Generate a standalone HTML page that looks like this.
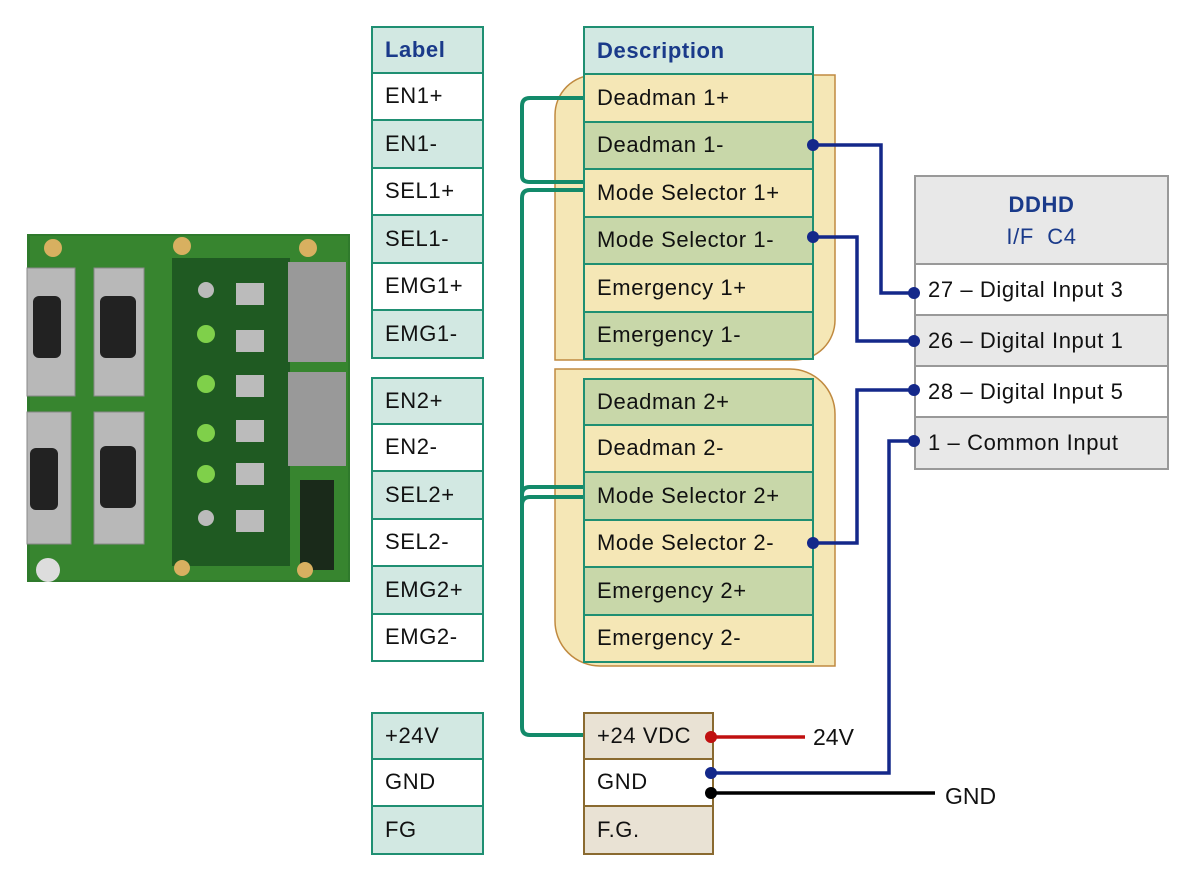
<!DOCTYPE html><html><head><style>
body{margin:0;width:1200px;height:874px;background:#fff;font-family:"Liberation Sans",sans-serif;position:relative;overflow:hidden}
.c{position:absolute;box-sizing:border-box;font-size:22px;letter-spacing:0.6px;color:#111;padding-left:12px;display:flex;align-items:center}
</style></head><body>
<svg width="1200" height="874" style="position:absolute;left:0;top:0">
<rect x="27" y="234" width="323" height="348" fill="#2f7a2c"/>
<rect x="30" y="236" width="318" height="344" fill="#37852f"/>
<rect x="172" y="258" width="118" height="308" fill="#1f5a22"/>
<g fill="#b8b8b8" stroke="#888"><rect x="27" y="268" width="48" height="128"/><rect x="94" y="268" width="50" height="128"/><rect x="27" y="412" width="44" height="132"/><rect x="94" y="412" width="50" height="132"/></g>
<g fill="#222"><rect x="33" y="296" width="28" height="62" rx="6"/><rect x="100" y="296" width="36" height="62" rx="6"/><rect x="30" y="448" width="28" height="62" rx="6"/><rect x="100" y="446" width="36" height="62" rx="6"/></g>
<g fill="#999"><rect x="288" y="262" width="58" height="100"/><rect x="288" y="372" width="58" height="94"/></g>
<rect x="300" y="480" width="34" height="90" fill="#1a2a1a"/>
<g fill="#7fd04a"><circle cx="206" cy="334" r="9"/><circle cx="206" cy="384" r="9"/><circle cx="206" cy="433" r="9"/><circle cx="206" cy="474" r="9"/></g>
<g fill="#bbb"><circle cx="206" cy="290" r="8"/><circle cx="206" cy="518" r="8"/><rect x="236" y="283" width="28" height="22"/><rect x="236" y="330" width="28" height="22"/><rect x="236" y="375" width="28" height="22"/><rect x="236" y="420" width="28" height="22"/><rect x="236" y="463" width="28" height="22"/><rect x="236" y="510" width="28" height="22"/></g>
<g fill="#d8b060"><circle cx="53" cy="248" r="9"/><circle cx="182" cy="246" r="9"/><circle cx="308" cy="248" r="9"/><circle cx="182" cy="568" r="8"/><circle cx="305" cy="570" r="8"/></g>
<circle cx="48" cy="570" r="12" fill="#ddd"/>
<path d="M595 75 H835 V320 A40 40 0 0 1 795 360 H555 V115 A40 40 0 0 1 595 75Z" fill="#f5e7b6" stroke="#c08a40" stroke-width="1.5"/>
<path d="M555 369 H790 A45 45 0 0 1 835 414 V666 H600 A45 45 0 0 1 555 621 Z" fill="#f5e7b6" stroke="#c08a40" stroke-width="1.5"/>
</svg>
<div style="position:absolute;left:371px;top:26px;width:113px">
<div class="c" style="position:relative;height:47.5px;background:#d2e8e2;border:2px solid #1f8f72;font-weight:bold;color:#1a3a8a">Label</div>
<div class="c" style="position:relative;height:47.5px;background:#fff;border:2px solid #1f8f72;border-top:0">EN1+</div>
<div class="c" style="position:relative;height:47.5px;background:#d2e8e2;border:2px solid #1f8f72;border-top:0">EN1-</div>
<div class="c" style="position:relative;height:47.5px;background:#fff;border:2px solid #1f8f72;border-top:0">SEL1+</div>
<div class="c" style="position:relative;height:47.5px;background:#d2e8e2;border:2px solid #1f8f72;border-top:0">SEL1-</div>
<div class="c" style="position:relative;height:47.5px;background:#fff;border:2px solid #1f8f72;border-top:0">EMG1+</div>
<div class="c" style="position:relative;height:47.5px;background:#d2e8e2;border:2px solid #1f8f72;border-top:0">EMG1-</div>
</div>
<div style="position:absolute;left:371px;top:377px;width:113px">
<div class="c" style="position:relative;height:47.5px;background:#d2e8e2;border:2px solid #1f8f72">EN2+</div>
<div class="c" style="position:relative;height:47.5px;background:#fff;border:2px solid #1f8f72;border-top:0">EN2-</div>
<div class="c" style="position:relative;height:47.5px;background:#d2e8e2;border:2px solid #1f8f72;border-top:0">SEL2+</div>
<div class="c" style="position:relative;height:47.5px;background:#fff;border:2px solid #1f8f72;border-top:0">SEL2-</div>
<div class="c" style="position:relative;height:47.5px;background:#d2e8e2;border:2px solid #1f8f72;border-top:0">EMG2+</div>
<div class="c" style="position:relative;height:47.5px;background:#fff;border:2px solid #1f8f72;border-top:0">EMG2-</div>
</div>
<div style="position:absolute;left:371px;top:712px;width:113px">
<div class="c" style="position:relative;height:47.5px;background:#d2e8e2;border:2px solid #1f8f72">+24V</div>
<div class="c" style="position:relative;height:47.5px;background:#fff;border:2px solid #1f8f72;border-top:0">GND</div>
<div class="c" style="position:relative;height:47.5px;background:#d2e8e2;border:2px solid #1f8f72;border-top:0">FG</div>
</div>
<div style="position:absolute;left:583px;top:26px;width:231px">
<div class="c" style="position:relative;height:49px;background:#d2e8e2;border:2px solid #1f8f72;font-weight:bold;color:#1a3a8a">Description</div>
<div class="c" style="position:relative;height:47.5px;background:#f5e7b6;border:2px solid #1f8f72;border-top:0">Deadman 1+</div>
<div class="c" style="position:relative;height:47.5px;background:#c8d7a9;border:2px solid #1f8f72;border-top:0">Deadman 1-</div>
<div class="c" style="position:relative;height:47.5px;background:#f5e7b6;border:2px solid #1f8f72;border-top:0">Mode Selector 1+</div>
<div class="c" style="position:relative;height:47.5px;background:#c8d7a9;border:2px solid #1f8f72;border-top:0">Mode Selector 1-</div>
<div class="c" style="position:relative;height:47.5px;background:#f5e7b6;border:2px solid #1f8f72;border-top:0">Emergency 1+</div>
<div class="c" style="position:relative;height:47.5px;background:#c8d7a9;border:2px solid #1f8f72;border-top:0">Emergency 1-</div>
</div>
<div style="position:absolute;left:583px;top:378px;width:231px">
<div class="c" style="position:relative;height:47.5px;background:#c8d7a9;border:2px solid #1f8f72">Deadman 2+</div>
<div class="c" style="position:relative;height:47.5px;background:#f5e7b6;border:2px solid #1f8f72;border-top:0">Deadman 2-</div>
<div class="c" style="position:relative;height:47.5px;background:#c8d7a9;border:2px solid #1f8f72;border-top:0">Mode Selector 2+</div>
<div class="c" style="position:relative;height:47.5px;background:#f5e7b6;border:2px solid #1f8f72;border-top:0">Mode Selector 2-</div>
<div class="c" style="position:relative;height:47.5px;background:#c8d7a9;border:2px solid #1f8f72;border-top:0">Emergency 2+</div>
<div class="c" style="position:relative;height:47.5px;background:#f5e7b6;border:2px solid #1f8f72;border-top:0">Emergency 2-</div>
</div>
<div style="position:absolute;left:583px;top:712px;width:131px">
<div class="c" style="position:relative;height:47.5px;background:#e9e2d4;border:2px solid #8a6a30">+24 VDC</div>
<div class="c" style="position:relative;height:47.5px;background:#fff;border:2px solid #8a6a30;border-top:0">GND</div>
<div class="c" style="position:relative;height:47.5px;background:#e9e2d4;border:2px solid #8a6a30;border-top:0">F.G.</div>
</div>
<div style="position:absolute;left:914px;top:175px;width:255px">
<div style="height:90px;background:#e8e8e8;border:2px solid #999;box-sizing:border-box;text-align:center;color:#1a3a8a;font-size:22px;letter-spacing:0.6px;padding-top:12px;line-height:32px"><b>DDHD</b><br>I/F&nbsp; C4</div>
<div class="c" style="position:relative;height:51px;background:#fff;border:2px solid #999;border-top:0">27 – Digital Input 3</div>
<div class="c" style="position:relative;height:51px;background:#e8e8e8;border:2px solid #999;border-top:0">26 – Digital Input 1</div>
<div class="c" style="position:relative;height:51px;background:#fff;border:2px solid #999;border-top:0">28 – Digital Input 5</div>
<div class="c" style="position:relative;height:52px;background:#e8e8e8;border:2px solid #999;border-top:0">1 – Common Input</div>
</div>
<svg width="1200" height="874" style="position:absolute;left:0;top:0">
<g fill="none" stroke="#138a6a" stroke-width="4">
<path d="M583 98 H530 Q522 98 522 106 V176 Q522 182 530 182 H583"/>
<path d="M583 190 H530 Q522 190 522 198 V727 Q522 735 530 735 H583"/>
<path d="M583 487 H530 Q522 487 522 495"/>
<path d="M583 497 H530 Q522 497 522 505"/>
</g>
<g fill="none" stroke="#14288a" stroke-width="3.5">
<path d="M813 145 H881 V293 H914"/>
<path d="M813 237 H857 V341 H914"/>
<path d="M813 543 H857 V390 H914"/>
<path d="M711 773 H889 V441 H914"/>
</g>
<g fill="#14288a"><circle cx="813" cy="145" r="6"/><circle cx="813" cy="237" r="6"/><circle cx="813" cy="543" r="6"/><circle cx="711" cy="773" r="6"/><circle cx="914" cy="293" r="6"/><circle cx="914" cy="341" r="6"/><circle cx="914" cy="390" r="6"/><circle cx="914" cy="441" r="6"/></g>
<path d="M711 737 H805" stroke="#c01010" stroke-width="3.5"/><circle cx="711" cy="737" r="6" fill="#c01010"/>
<path d="M711 793 H935" stroke="#000" stroke-width="3.5"/><circle cx="711" cy="793" r="6" fill="#000"/>
<text x="813" y="745" font-family="Liberation Sans" font-size="23" fill="#111">24V</text>
<text x="945" y="804" font-family="Liberation Sans" font-size="23" fill="#111">GND</text>
</svg>
</body></html>
